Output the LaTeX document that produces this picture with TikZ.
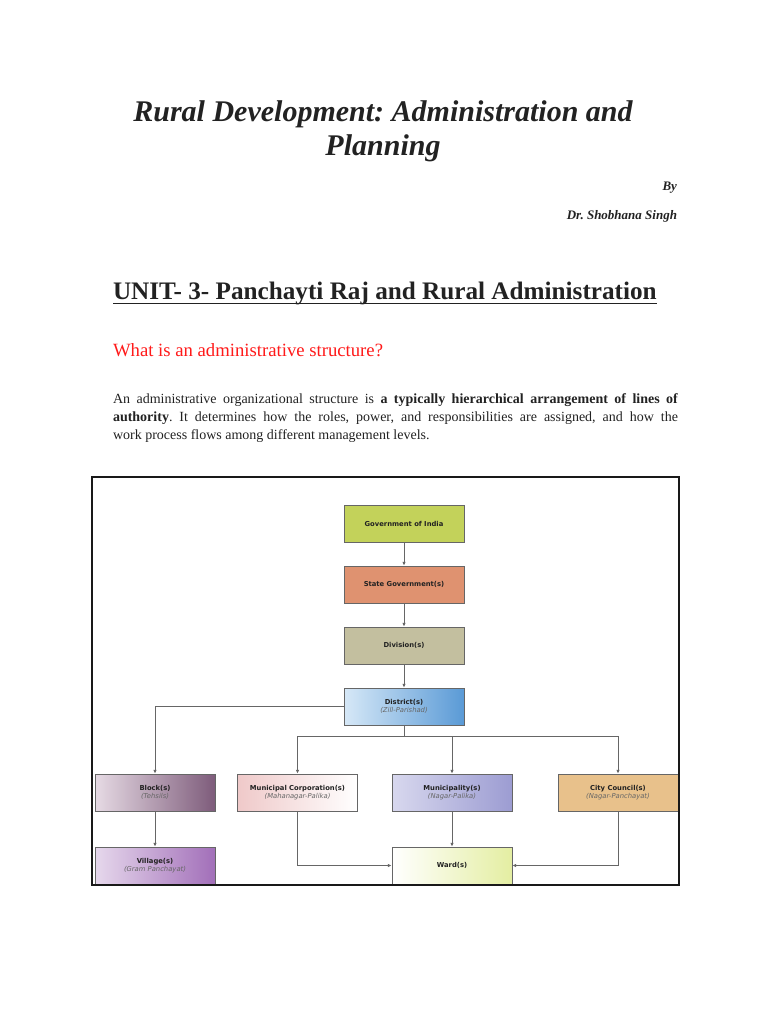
\documentclass[tikz,border=0pt]{standalone}
\usepackage{fontspec}
\setmainfont{Liberation Serif}
\newfontfamily\boxfont{DejaVu Sans}
\usetikzlibrary{arrows.meta,calc}
\definecolor{govc}{HTML}{C3D25A}
\definecolor{statec}{HTML}{DF9270}
\definecolor{divc}{HTML}{C3BF9F}
\definecolor{distl}{HTML}{D6E8F7}
\definecolor{distr}{HTML}{5A9AD6}
\definecolor{blockl}{HTML}{E6DAE4}
\definecolor{blockr}{HTML}{7E5C7B}
\definecolor{mcl}{HTML}{EFC9C9}
\definecolor{mcr}{HTML}{FFFFFF}
\definecolor{munl}{HTML}{D8D8EE}
\definecolor{munr}{HTML}{9C9CD2}
\definecolor{cityc}{HTML}{E8C18B}
\definecolor{vill}{HTML}{E6D8EC}
\definecolor{vilr}{HTML}{A26FB9}
\definecolor{wardl}{HTML}{FFFFFF}
\definecolor{wardr}{HTML}{E4EEA2}
\definecolor{linec}{HTML}{666666}
\definecolor{headred}{HTML}{FF1A1A}
\definecolor{txtc}{HTML}{222222}
\tikzset{
  orgbox/.style={draw=linec, line width=0.7pt, minimum width=120pt, minimum height=37pt,
    inner sep=1pt, align=center, font=\boxfont\fontsize{6.8}{9.5}\selectfont, text=txtc},
  conn/.style={draw=linec, line width=1pt, -{Latex[length=3.8pt,width=3.4pt,fill=black]}},
  plainline/.style={draw=linec, line width=1pt},
  txt/.style={inner sep=0pt, outer sep=0pt, text=txtc}
}
\newcommand{\bx}[2]{\textbf{#1}\\[-1pt]{\color{black!60}\itshape #2}}
\begin{document}
\frenchspacing
\begin{tikzpicture}[x=1pt,y=-1pt]
\useasboundingbox (0,0) rectangle (768,1024);
\fill[white] (0,0) rectangle (768,1024);

% header texts
\node[txt, anchor=base, font=\fontsize{30}{34}\selectfont\bfseries\itshape] (t1) at (383,122) {Rural Development: Administration and};
\node[txt, anchor=base, font=\fontsize{30}{34}\selectfont\bfseries\itshape] (t2) at (383,156) {Planning};
\node[txt, anchor=base east, font=\fontsize{13}{16}\selectfont\bfseries\itshape] (by) at (677,191) {By};
\node[txt, anchor=base east, font=\fontsize{13}{16}\selectfont\bfseries\itshape] (auth) at (677,219) {Dr. Shobhana Singh};
\node[txt, anchor=base west, font=\fontsize{25.2}{28}\selectfont\bfseries] (unit) at (113,299) {UNIT- 3- Panchayti Raj and Rural Administration};
\draw[line width=1.8pt, txtc] ([yshift=-4.5pt]unit.base west) -- ([yshift=-4.5pt]unit.base east);
\node[txt, anchor=base west, text=headred, font=\fontsize{18.7}{22}\selectfont] (q) at (113,356) {What is an administrative structure?};
\node[txt, anchor=base west, font=\fontsize{14}{18}\selectfont] (p1) at (113,403) {\makebox[565pt][s]{An administrative organizational structure is \textbf{a typically hierarchical arrangement of lines of}}};
\node[txt, anchor=base west, font=\fontsize{14}{18}\selectfont] (p2) at (113,421) {\makebox[565pt][s]{\textbf{authority}. It determines how the roles, power, and responsibilities are assigned, and how the}};
\node[txt, anchor=base west, font=\fontsize{14}{18}\selectfont] (p3) at (113,439) {work process flows among different management levels.};

% boxes
\node[orgbox, fill=govc] (gov) at (404,523.5) {\textbf{Government of India}};
\node[orgbox, fill=statec] (state) at (404,584.5) {\textbf{State Government(s)}};
\node[orgbox, fill=divc] (div) at (404,645.5) {\textbf{Division(s)}};
\node[orgbox, left color=distl, right color=distr] (dist) at (404,706.5) {\bx{District(s)}{(Zill-Parishad)}};
\node[orgbox, left color=blockl, right color=blockr] (block) at (155,792.5) {\bx{Block(s)}{(Tehsils)}};
\node[orgbox, left color=mcl, right color=mcr] (mc) at (297.5,792.5) {\bx{Municipal Corporation(s)}{(Mahanagar-Palika)}};
\node[orgbox, left color=munl, right color=munr] (mun) at (452,792.5) {\bx{Municipality(s)}{(Nagar-Palika)}};
\node[orgbox, fill=cityc] (city) at (618,792.5) {\bx{City Council(s)}{(Nagar-Panchayat)}};
\node[orgbox, left color=vill, right color=vilr] (vil) at (155,865.5) {\bx{Village(s)}{(Gram Panchayat)}};
\node[orgbox, left color=wardl, right color=wardr] (ward) at (452,865.5) {\textbf{Ward(s)}};

% connectors
\draw[conn] (gov) -- (state);
\draw[conn] (state) -- (div);
\draw[conn] (div) -- (dist);
\draw[conn] (dist.west) -| (block.north);
\coordinate (j) at (404,736);
\draw[plainline] (dist.south) -- (j);
\draw[conn] (j) -| (mc.north);
\draw[conn] (j) -| (mun.north);
\draw[conn] (j) -| (city.north);
\draw[conn] (block) -- (vil);
\draw[conn] (mc.south) |- (ward.west);
\draw[conn] (mun) -- (ward);
\draw[conn] (city.south) |- (ward.east);

% frame
\draw[line width=2.6pt, black!90] (92,477) rectangle (679,885);
\end{tikzpicture}
\end{document}
